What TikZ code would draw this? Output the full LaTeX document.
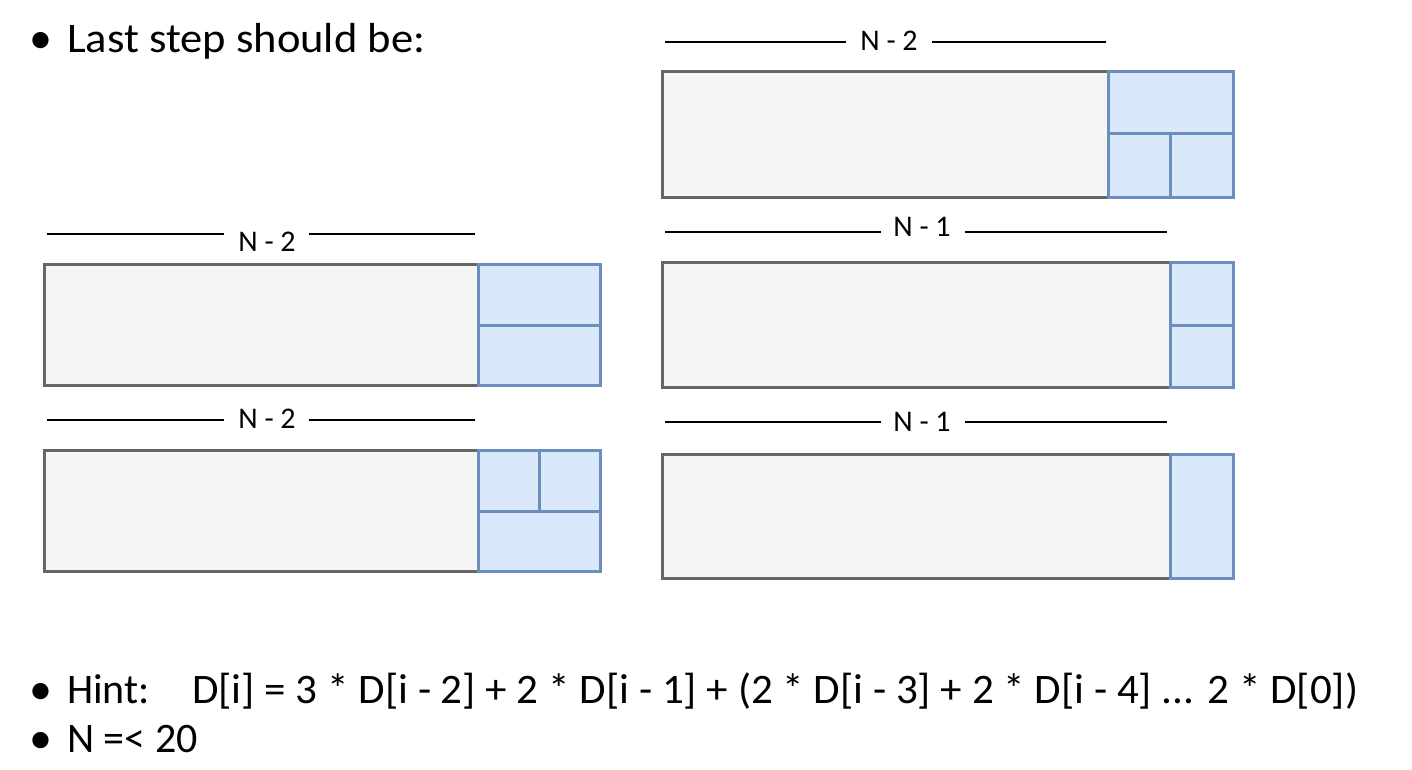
\documentclass[tikz,border=0pt]{standalone}
\usepackage{fontspec}
\setmainfont{Carlito}
\usepackage{graphicx}
\usetikzlibrary{positioning}
\definecolor{grayfill}{HTML}{F5F5F5}
\definecolor{grayline}{HTML}{666666}
\definecolor{bluefill}{HTML}{DAE8FC}
\definecolor{blueline}{HTML}{6C8EBF}

\begin{document}
\begin{tikzpicture}[x=1pt,y=-1pt,
  bar/.style={draw=grayline,fill=grayfill,line width=3pt},
  cell/.style={draw=blueline,fill=bluefill,line width=3pt},
  rule/.style={line width=2.8pt},
  lab/.style={font=\fontsize{30}{32}\selectfont,anchor=base,inner sep=0pt},
  txt/.style={font=\fontsize{42}{48}\selectfont,anchor=base west,inner sep=0pt},
  dot/.style={font=\fontsize{46}{50}\selectfont,anchor=base west,inner sep=0pt}]
  \useasboundingbox (0,0) rectangle (1412,770);
  % gray strips
  \foreach \xa/\ya/\xb/\yb in {44/264/478/385,44/450/478/571,662/72/1108/197,662/262/1170/387,662/454/1170/578}
     \draw[bar] (\xa,\ya) rectangle (\xb,\yb);
  % blue tiles
  \foreach \xa/\ya/\xb/\yb in {478/264/600/325,478/325/600/385,478/450/539/511,539/450/600/511,478/511/600/571,
     1108/72/1233/134,1108/134/1170/197,1170/134/1233/197,1170/262/1233/325,1170/325/1233/387,1170/454/1233/578}
     \draw[cell] (\xa,\ya) rectangle (\xb,\yb);
  % length marks
  \foreach \i/\n/\cx/\by/\ly/\xa/\xb/\xc/\xd in {1/2/889/51/42/665/846/932/1106,2/2/267/251/234/47/224/309/475,
     3/2/267/428/420/47/224/309/475,4/1/922/236/232/665/881/965/1167,5/1/922/431/422/665/881/965/1167} {
     \node[lab] (len\i) at (\cx,\by) {N - \n};
     \coordinate (m\i a) at (\xa,\ly); \coordinate (m\i b) at (\xb,\ly);
     \coordinate (m\i c) at (\xc,\ly); \coordinate (m\i d) at (\xd,\ly);
     \draw[rule] (m\i a) -- (m\i b) (m\i c) -- (m\i d);}
  % bullet lines
  \node[dot] (dot1) at (29,54) {•};
  \node[txt] (last) at (67,53) {\resizebox{358pt}{\height}{Last step should be:}};
  \node[dot] (dot2) at (29,704) {•};
  \node[txt] (hint) at (67,703) {Hint:};
  \node[txt] (rec) at (192,703) {\resizebox{1166pt}{\height}{D[i] = 3 * D[i - 2] + 2 * D[i - 1] + (2 * D[i - 3] + 2 * D[i - 4] ... 2 * D[0])}};
  \node[dot] (dot3) at (29,753) {•};
  \node[txt] (lim) at (67,752) {N =< 20};
\end{tikzpicture}
\end{document}
